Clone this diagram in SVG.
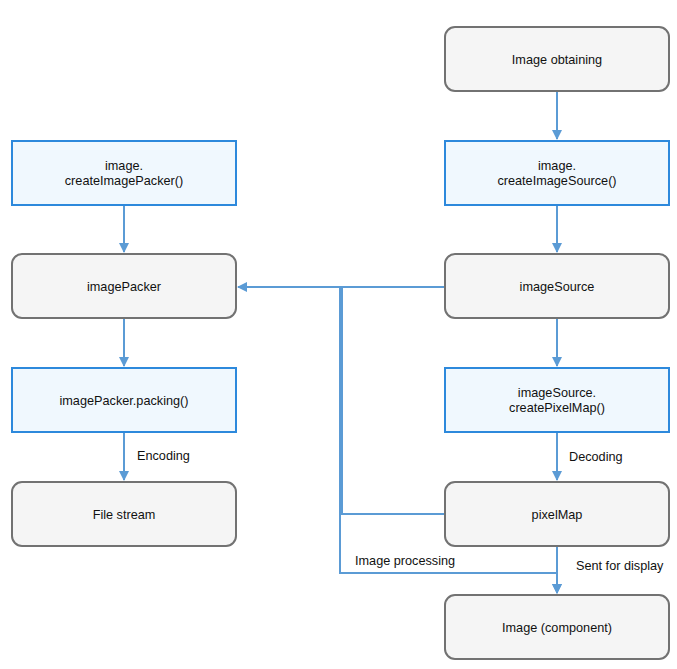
<svg xmlns="http://www.w3.org/2000/svg" width="677" height="669" viewBox="0 0 677 669">
<style>
.g rect{fill:#f5f5f5;stroke:#727272;stroke-width:2}
.b rect{fill:#f0f8fe;stroke:#2d89dc;stroke-width:2}
text{font-family:"Liberation Sans",Arial,sans-serif;font-size:12.7px;fill:#111;text-anchor:middle}
.lbl{text-anchor:start}
.c path{fill:none;stroke:#5b9bd5;stroke-width:2}
</style>
<defs>
<marker id="ah" viewBox="0 0 10 10" refX="9" refY="5" markerWidth="5" markerHeight="5" orient="auto" markerUnits="strokeWidth">
<path d="M0,0 L10,5 L0,10 z" fill="#5b9bd5"/>
</marker>
</defs>
<rect width="677" height="669" fill="#ffffff"/>
<g class="c" id="connectors">
<path d="M557,91 V139" marker-end="url(#ah)"/>
<path d="M557,205 V252" marker-end="url(#ah)"/>
<path d="M557,318 V366" marker-end="url(#ah)"/>
<path d="M557,432 V480" marker-end="url(#ah)"/>
<path d="M557,546 V593" marker-end="url(#ah)"/>
<path d="M124,205 V252" marker-end="url(#ah)"/>
<path d="M124,318 V366" marker-end="url(#ah)"/>
<path d="M124,432 V480" marker-end="url(#ah)"/>
<path d="M445,287 H238" marker-end="url(#ah)"/>
<path d="M445,514 H342 V287"/>
<path d="M340,287 V573 H557 V593" marker-end="url(#ah)"/>
<text class="lbl" x="137" y="460">Encoding</text>
<text class="lbl" x="569" y="461">Decoding</text>
<text class="lbl" x="576" y="570">Sent for display</text>
<text class="lbl" x="355" y="565">Image processing</text>
</g>
<g id="n-obtain" class="g"><rect x="445" y="27" width="224" height="64" rx="10"/><text x="557" y="64">Image obtaining</text></g>
<g id="n-createSource" class="b"><rect x="445" y="141" width="224" height="64"/><text x="557" y="170">image.</text><text x="557" y="185">createImageSource()</text></g>
<g id="n-imageSource" class="g"><rect x="445" y="254" width="224" height="64" rx="10"/><text x="557" y="291">imageSource</text></g>
<g id="n-createPixelMap" class="b"><rect x="445" y="368" width="224" height="64"/><text x="557" y="397">imageSource.</text><text x="557" y="412">createPixelMap()</text></g>
<g id="n-pixelMap" class="g"><rect x="445" y="482" width="224" height="64" rx="10"/><text x="557" y="519">pixelMap</text></g>
<g id="n-imageComp" class="g"><rect x="445" y="595" width="224" height="64" rx="10"/><text x="557" y="632">Image (component)</text></g>
<g id="n-createPacker" class="b"><rect x="12" y="141" width="224" height="64"/><text x="124" y="170">image.</text><text x="124" y="185">createImagePacker()</text></g>
<g id="n-imagePacker" class="g"><rect x="12" y="254" width="224" height="64" rx="10"/><text x="124" y="291">imagePacker</text></g>
<g id="n-packing" class="b"><rect x="12" y="368" width="224" height="64"/><text x="124" y="405">imagePacker.packing()</text></g>
<g id="n-fileStream" class="g"><rect x="12" y="482" width="224" height="64" rx="10"/><text x="124" y="519">File stream</text></g>
</svg>
